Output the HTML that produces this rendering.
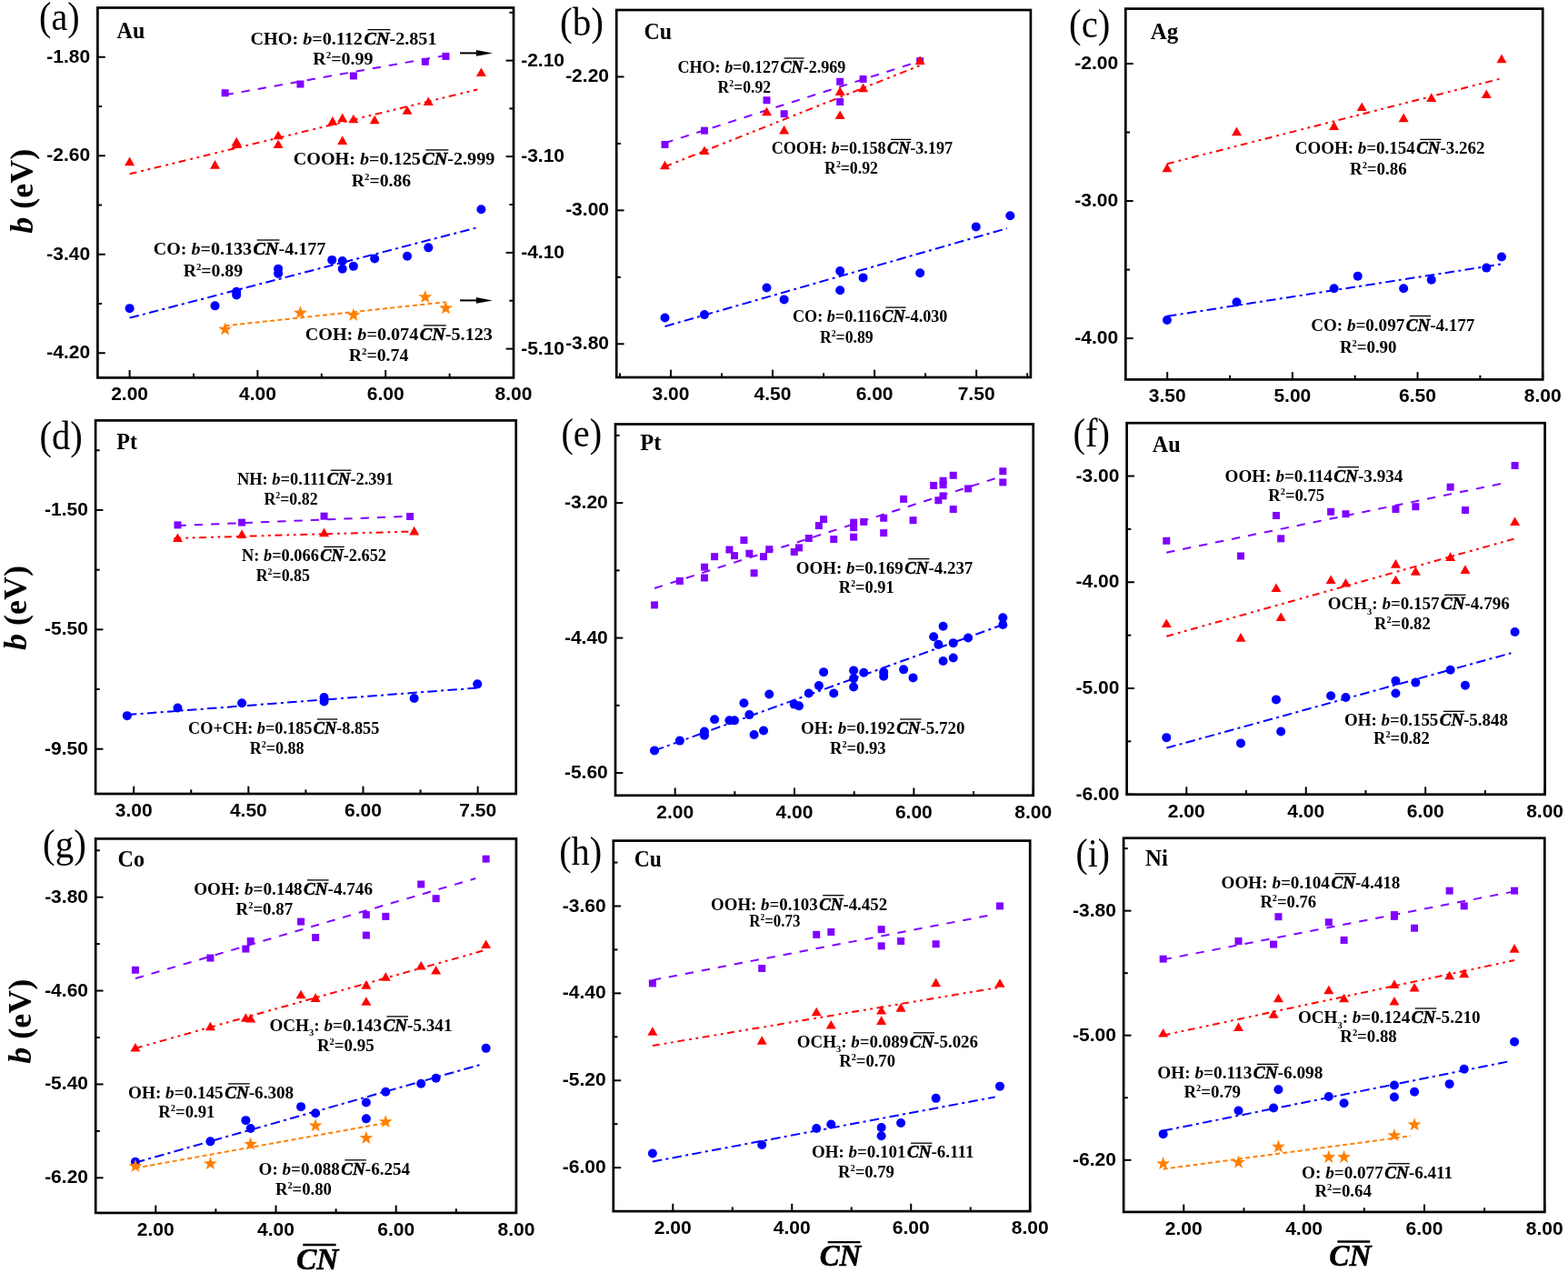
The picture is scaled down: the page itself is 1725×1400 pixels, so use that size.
<!DOCTYPE html>
<html><head><meta charset="utf-8"><title>b vs CN</title><style>html,body{margin:0;padding:0;background:#fff;}svg{display:block;}</style></head><body>
<svg width="1725" height="1400" viewBox="0 0 1725 1400">
<g stroke="#000" stroke-width="2"><line x1="142.6" y1="415.4" x2="142.6" y2="407.05"/><line x1="283.4" y1="415.4" x2="283.4" y2="407.05"/><line x1="424.2" y1="415.4" x2="424.2" y2="407.05"/><line x1="565" y1="415.4" x2="565" y2="407.05"/><line x1="213" y1="415.4" x2="213" y2="410.75"/><line x1="353.8" y1="415.4" x2="353.8" y2="410.75"/><line x1="494.6" y1="415.4" x2="494.6" y2="410.75"/><line x1="107.4" y1="62.75" x2="115.75" y2="62.75"/><line x1="107.4" y1="171.26" x2="115.75" y2="171.26"/><line x1="107.4" y1="279.77" x2="115.75" y2="279.77"/><line x1="107.4" y1="388.27" x2="115.75" y2="388.27"/><line x1="107.4" y1="117.01" x2="112.05" y2="117.01"/><line x1="107.4" y1="225.51" x2="112.05" y2="225.51"/><line x1="107.4" y1="334.02" x2="112.05" y2="334.02"/><line x1="565" y1="66.6" x2="556.65" y2="66.6"/><line x1="565" y1="172.1" x2="556.65" y2="172.1"/><line x1="565" y1="277.9" x2="556.65" y2="277.9"/><line x1="565" y1="383.6" x2="556.65" y2="383.6"/><line x1="565" y1="13.8" x2="560.35" y2="13.8"/><line x1="565" y1="119.4" x2="560.35" y2="119.4"/><line x1="565" y1="225" x2="560.35" y2="225"/><line x1="565" y1="330.7" x2="560.35" y2="330.7"/></g>
<rect x="107.4" y="8.5" width="457.6" height="406.9" fill="none" stroke="#000" stroke-width="2.7"/>
<g font-family="'Liberation Sans', Arial, sans-serif" font-weight="bold" font-size="21" fill="#000"><text x="142.6" y="440.2" text-anchor="middle">2.00</text><text x="283.4" y="440.2" text-anchor="middle">4.00</text><text x="424.2" y="440.2" text-anchor="middle">6.00</text><text x="565" y="440.2" text-anchor="middle">8.00</text><text x="99.2" y="68.75" text-anchor="end">-1.80</text><text x="99.2" y="177.26" text-anchor="end">-2.60</text><text x="99.2" y="285.77" text-anchor="end">-3.40</text><text x="99.2" y="394.27" text-anchor="end">-4.20</text><text x="573.2" y="72.6" text-anchor="start">-2.10</text><text x="573.2" y="178.1" text-anchor="start">-3.10</text><text x="573.2" y="283.9" text-anchor="start">-4.10</text><text x="573.2" y="389.6" text-anchor="start">-5.10</text></g>
<line x1="247.65" y1="104.35" x2="490.43" y2="60.87" stroke="#8000ff" stroke-width="2" stroke-dasharray="9.3 9"/>
<line x1="142.61" y1="191.3" x2="525.22" y2="98.43" stroke="#ff0000" stroke-width="2" stroke-dasharray="7.9 5.1 2.8 4.6 2.8 4.6"/>
<line x1="142.61" y1="349.57" x2="526.96" y2="249.74" stroke="#0000ff" stroke-width="2" stroke-dasharray="10.5 4.3 3 4.3"/>
<line x1="247.65" y1="358.26" x2="490.43" y2="332.17" stroke="#ff8000" stroke-width="2" stroke-dasharray="5 3.3"/>
<rect x="243.65" y="98.26" width="8" height="8" fill="#8000ff"/>
<rect x="326.43" y="88.52" width="8" height="8" fill="#8000ff"/>
<rect x="384.87" y="79.48" width="8" height="8" fill="#8000ff"/>
<rect x="463.83" y="63.83" width="8" height="8" fill="#8000ff"/>
<rect x="486.43" y="57.91" width="8" height="8" fill="#8000ff"/>
<polygon points="142.61,172.59 148.11,182.19 137.11,182.19" fill="#ff0000"/>
<polygon points="236.52,176.07 242.02,185.67 231.02,185.67" fill="#ff0000"/>
<polygon points="260.17,150.68 265.67,160.28 254.67,160.28" fill="#ff0000"/>
<polygon points="260.17,153.46 265.67,163.06 254.67,163.06" fill="#ff0000"/>
<polygon points="306.09,143.72 311.59,153.32 300.59,153.32" fill="#ff0000"/>
<polygon points="306.09,153.46 311.59,163.06 300.59,163.06" fill="#ff0000"/>
<polygon points="365.91,128.07 371.41,137.67 360.41,137.67" fill="#ff0000"/>
<polygon points="376.7,124.59 382.2,134.19 371.2,134.19" fill="#ff0000"/>
<polygon points="376.7,149.29 382.2,158.89 371.2,158.89" fill="#ff0000"/>
<polygon points="388.87,125.63 394.37,135.23 383.37,135.23" fill="#ff0000"/>
<polygon points="412.17,126.68 417.67,136.28 406.67,136.28" fill="#ff0000"/>
<polygon points="448,116.24 453.5,125.84 442.5,125.84" fill="#ff0000"/>
<polygon points="471.3,106.5 476.8,116.1 465.8,116.1" fill="#ff0000"/>
<polygon points="529.39,74.5 534.89,84.1 523.89,84.1" fill="#ff0000"/>
<circle cx="142.61" cy="339.13" r="5" fill="#0000ff"/>
<circle cx="236.52" cy="336.35" r="5" fill="#0000ff"/>
<circle cx="260.17" cy="320.7" r="5" fill="#0000ff"/>
<circle cx="260.17" cy="324.52" r="5" fill="#0000ff"/>
<circle cx="306.09" cy="295.65" r="5" fill="#0000ff"/>
<circle cx="306.09" cy="300.87" r="5" fill="#0000ff"/>
<circle cx="365.22" cy="285.91" r="5" fill="#0000ff"/>
<circle cx="376.7" cy="286.96" r="5" fill="#0000ff"/>
<circle cx="376.7" cy="295.65" r="5" fill="#0000ff"/>
<circle cx="388.87" cy="292.87" r="5" fill="#0000ff"/>
<circle cx="412.17" cy="284.52" r="5" fill="#0000ff"/>
<circle cx="448" cy="281.74" r="5" fill="#0000ff"/>
<circle cx="471.3" cy="272.35" r="5" fill="#0000ff"/>
<circle cx="529.39" cy="230.26" r="5" fill="#0000ff"/>
<polygon points="247.65,354.44 249.53,359.65 255.07,359.83 250.7,363.23 252.24,368.55 247.65,365.44 243.07,368.55 244.61,363.23 240.23,359.83 245.77,359.65" fill="#ff8000"/>
<polygon points="330.43,336.35 332.32,341.56 337.85,341.74 333.48,345.14 335.02,350.46 330.43,347.35 325.85,350.46 327.39,345.14 323.02,341.74 328.55,341.56" fill="#ff8000"/>
<polygon points="388.87,338.79 390.75,344 396.29,344.18 391.91,347.58 393.45,352.9 388.87,349.79 384.28,352.9 385.83,347.58 381.45,344.18 386.99,344" fill="#ff8000"/>
<polygon points="467.83,318.96 469.71,324.17 475.24,324.35 470.87,327.75 472.41,333.07 467.83,329.96 463.24,333.07 464.78,327.75 460.41,324.35 465.95,324.17" fill="#ff8000"/>
<polygon points="490.43,331.13 492.32,336.35 497.85,336.52 493.48,339.92 495.02,345.25 490.43,342.13 485.85,345.25 487.39,339.92 483.02,336.52 488.55,336.35" fill="#ff8000"/>
<line x1="506" y1="58.4" x2="529.9" y2="58.4" stroke="#000" stroke-width="2"/>
<polygon points="541.9,58.4 523.9,55 523.9,61.8" fill="#000"/>
<line x1="506" y1="330.4" x2="529.9" y2="330.4" stroke="#000" stroke-width="2"/>
<polygon points="541.9,330.4 523.9,327 523.9,333.8" fill="#000"/>
<text x="275.5" y="48.6" font-family="'Liberation Serif', 'Times New Roman', serif" font-weight="bold" font-size="19.5" textLength="205" lengthAdjust="spacingAndGlyphs">CHO: <tspan font-style="italic">b</tspan>=0.112<tspan id="ov_a_0" dx="1.5" font-style="italic" stroke="#000" stroke-width="0.55">CN</tspan>-2.851</text><line x1="404.47" y1="32.6" x2="429.46" y2="32.6" stroke="#000" stroke-width="1.3"/>
<text x="344.3" y="71.3" font-family="'Liberation Serif', 'Times New Roman', serif" font-weight="bold" font-size="19.5" textLength="66.1" lengthAdjust="spacingAndGlyphs">R<tspan font-size="10.73" dy="-7">2</tspan><tspan dy="7">=0.99</tspan></text>
<text x="322.8" y="180.9" font-family="'Liberation Serif', 'Times New Roman', serif" font-weight="bold" font-size="19.5" textLength="221.5" lengthAdjust="spacingAndGlyphs">COOH: <tspan font-style="italic">b</tspan>=0.125<tspan id="ov_a_1" dx="1.5" font-style="italic" stroke="#000" stroke-width="0.55">CN</tspan>-2.999</text><line x1="468.37" y1="164.9" x2="493.33" y2="164.9" stroke="#000" stroke-width="1.3"/>
<text x="386.8" y="204.5" font-family="'Liberation Serif', 'Times New Roman', serif" font-weight="bold" font-size="19.5" textLength="65.4" lengthAdjust="spacingAndGlyphs">R<tspan font-size="10.73" dy="-7">2</tspan><tspan dy="7">=0.86</tspan></text>
<text x="168.7" y="280" font-family="'Liberation Serif', 'Times New Roman', serif" font-weight="bold" font-size="19.5" textLength="189.6" lengthAdjust="spacingAndGlyphs">CO: <tspan font-style="italic">b</tspan>=0.133<tspan id="ov_a_2" dx="1.5" font-style="italic" stroke="#000" stroke-width="0.55">CN</tspan>-4.177</text><line x1="282.62" y1="264" x2="307.49" y2="264" stroke="#000" stroke-width="1.3"/>
<text x="201.7" y="303.7" font-family="'Liberation Serif', 'Times New Roman', serif" font-weight="bold" font-size="19.5" textLength="65.4" lengthAdjust="spacingAndGlyphs">R<tspan font-size="10.73" dy="-7">2</tspan><tspan dy="7">=0.89</tspan></text>
<text x="335.7" y="373.9" font-family="'Liberation Serif', 'Times New Roman', serif" font-weight="bold" font-size="19.5" textLength="206.2" lengthAdjust="spacingAndGlyphs">COH: <tspan font-style="italic">b</tspan>=0.074<tspan id="ov_a_3" dx="1.5" font-style="italic" stroke="#000" stroke-width="0.55">CN</tspan>-5.123</text><line x1="465.84" y1="357.9" x2="490.84" y2="357.9" stroke="#000" stroke-width="1.3"/>
<text x="383.7" y="396.5" font-family="'Liberation Serif', 'Times New Roman', serif" font-weight="bold" font-size="19.5" textLength="65.7" lengthAdjust="spacingAndGlyphs">R<tspan font-size="10.73" dy="-7">2</tspan><tspan dy="7">=0.74</tspan></text>
<text x="128.6" y="41.8" font-family="'Liberation Serif', 'Times New Roman', serif" font-weight="bold" font-size="26" textLength="30.7" lengthAdjust="spacingAndGlyphs">Au</text>
<text x="43" y="33.2" font-family="'Liberation Serif', 'Times New Roman', serif" font-size="44" textLength="44.6" lengthAdjust="spacingAndGlyphs">(a)</text>
<g stroke="#000" stroke-width="2"><line x1="737.96" y1="415" x2="737.96" y2="406.65"/><line x1="850.02" y1="415" x2="850.02" y2="406.65"/><line x1="962.08" y1="415" x2="962.08" y2="406.65"/><line x1="1074.14" y1="415" x2="1074.14" y2="406.65"/><line x1="681.94" y1="415" x2="681.94" y2="410.35"/><line x1="793.99" y1="415" x2="793.99" y2="410.35"/><line x1="906.05" y1="415" x2="906.05" y2="410.35"/><line x1="1018.11" y1="415" x2="1018.11" y2="410.35"/><line x1="1130.16" y1="415" x2="1130.16" y2="410.35"/><line x1="678.2" y1="84.45" x2="686.55" y2="84.45"/><line x1="678.2" y1="231.36" x2="686.55" y2="231.36"/><line x1="678.2" y1="378.27" x2="686.55" y2="378.27"/><line x1="678.2" y1="157.91" x2="682.85" y2="157.91"/><line x1="678.2" y1="304.82" x2="682.85" y2="304.82"/></g>
<rect x="678.2" y="11" width="455.7" height="404" fill="none" stroke="#000" stroke-width="2.7"/>
<g font-family="'Liberation Sans', Arial, sans-serif" font-weight="bold" font-size="21" fill="#000"><text x="737.96" y="439.8" text-anchor="middle">3.00</text><text x="850.02" y="439.8" text-anchor="middle">4.50</text><text x="962.08" y="439.8" text-anchor="middle">6.00</text><text x="1074.14" y="439.8" text-anchor="middle">7.50</text><text x="670" y="90.45" text-anchor="end">-2.20</text><text x="670" y="237.36" text-anchor="end">-3.00</text><text x="670" y="384.27" text-anchor="end">-3.80</text></g>
<line x1="731.48" y1="157.22" x2="1012.17" y2="67.13" stroke="#8000ff" stroke-width="2" stroke-dasharray="9.3 9"/>
<line x1="731.48" y1="183.3" x2="1013.91" y2="71.3" stroke="#ff0000" stroke-width="2" stroke-dasharray="7.9 5.1 2.8 4.6 2.8 4.6"/>
<line x1="731.48" y1="358.96" x2="1107.83" y2="251.13" stroke="#0000ff" stroke-width="2" stroke-dasharray="10.5 4.3 3 4.3"/>
<rect x="727.48" y="154.96" width="8" height="8" fill="#8000ff"/>
<rect x="770.96" y="139.65" width="8" height="8" fill="#8000ff"/>
<rect x="839.48" y="106.26" width="8" height="8" fill="#8000ff"/>
<rect x="858.61" y="121.22" width="8" height="8" fill="#8000ff"/>
<rect x="920.17" y="85.74" width="8" height="8" fill="#8000ff"/>
<rect x="920.17" y="108" width="8" height="8" fill="#8000ff"/>
<rect x="945.57" y="82.96" width="8" height="8" fill="#8000ff"/>
<rect x="1008.17" y="63.13" width="8" height="8" fill="#8000ff"/>
<polygon points="731.48,176.77 736.98,186.37 725.98,186.37" fill="#ff0000"/>
<polygon points="774.96,160.42 780.46,170.02 769.46,170.02" fill="#ff0000"/>
<polygon points="843.48,117.63 848.98,127.23 837.98,127.23" fill="#ff0000"/>
<polygon points="862.61,137.81 868.11,147.41 857.11,147.41" fill="#ff0000"/>
<polygon points="924.17,95.37 929.67,104.97 918.67,104.97" fill="#ff0000"/>
<polygon points="924.17,121.46 929.67,131.06 918.67,131.06" fill="#ff0000"/>
<polygon points="949.57,91.55 955.07,101.15 944.07,101.15" fill="#ff0000"/>
<polygon points="1012.17,61.29 1017.67,70.89 1006.67,70.89" fill="#ff0000"/>
<circle cx="731.48" cy="349.57" r="5" fill="#0000ff"/>
<circle cx="774.96" cy="346.09" r="5" fill="#0000ff"/>
<circle cx="843.48" cy="316.52" r="5" fill="#0000ff"/>
<circle cx="862.61" cy="329.39" r="5" fill="#0000ff"/>
<circle cx="924.17" cy="298.09" r="5" fill="#0000ff"/>
<circle cx="924.17" cy="319.3" r="5" fill="#0000ff"/>
<circle cx="949.57" cy="305.39" r="5" fill="#0000ff"/>
<circle cx="1012.17" cy="300.17" r="5" fill="#0000ff"/>
<circle cx="1073.74" cy="249.39" r="5" fill="#0000ff"/>
<circle cx="1111.3" cy="237.22" r="5" fill="#0000ff"/>
<text x="745.4" y="80" font-family="'Liberation Serif', 'Times New Roman', serif" font-weight="bold" font-size="19.5" textLength="185" lengthAdjust="spacingAndGlyphs">CHO: <tspan font-style="italic">b</tspan>=0.127<tspan id="ov_b_0" dx="1.5" font-style="italic" stroke="#000" stroke-width="0.55">CN</tspan>-2.969</text><line x1="862.57" y1="64" x2="884.69" y2="64" stroke="#000" stroke-width="1.3"/>
<text x="789.6" y="101.6" font-family="'Liberation Serif', 'Times New Roman', serif" font-weight="bold" font-size="19.5" textLength="58.4" lengthAdjust="spacingAndGlyphs">R<tspan font-size="10.73" dy="-7">2</tspan><tspan dy="7">=0.92</tspan></text>
<text x="848.7" y="169.4" font-family="'Liberation Serif', 'Times New Roman', serif" font-weight="bold" font-size="19.5" textLength="199.3" lengthAdjust="spacingAndGlyphs">COOH: <tspan font-style="italic">b</tspan>=0.158<tspan id="ov_b_1" dx="1.5" font-style="italic" stroke="#000" stroke-width="0.55">CN</tspan>-3.197</text><line x1="980.08" y1="153.4" x2="1002.24" y2="153.4" stroke="#000" stroke-width="1.3"/>
<text x="907.1" y="190.6" font-family="'Liberation Serif', 'Times New Roman', serif" font-weight="bold" font-size="19.5" textLength="58.8" lengthAdjust="spacingAndGlyphs">R<tspan font-size="10.73" dy="-7">2</tspan><tspan dy="7">=0.92</tspan></text>
<text x="872" y="354.1" font-family="'Liberation Serif', 'Times New Roman', serif" font-weight="bold" font-size="19.5" textLength="170.4" lengthAdjust="spacingAndGlyphs">CO: <tspan font-style="italic">b</tspan>=0.116<tspan id="ov_b_2" dx="1.5" font-style="italic" stroke="#000" stroke-width="0.55">CN</tspan>-4.030</text><line x1="974.37" y1="338.1" x2="996.56" y2="338.1" stroke="#000" stroke-width="1.3"/>
<text x="901.9" y="377.4" font-family="'Liberation Serif', 'Times New Roman', serif" font-weight="bold" font-size="19.5" textLength="58.8" lengthAdjust="spacingAndGlyphs">R<tspan font-size="10.73" dy="-7">2</tspan><tspan dy="7">=0.89</tspan></text>
<text x="708.5" y="42.5" font-family="'Liberation Serif', 'Times New Roman', serif" font-weight="bold" font-size="26" textLength="30.5" lengthAdjust="spacingAndGlyphs">Cu</text>
<text x="616" y="38.5" font-family="'Liberation Serif', 'Times New Roman', serif" font-size="44" textLength="48" lengthAdjust="spacingAndGlyphs">(b)</text>
<g stroke="#000" stroke-width="2"><line x1="1284.19" y1="417.4" x2="1284.19" y2="409.05"/><line x1="1421.86" y1="417.4" x2="1421.86" y2="409.05"/><line x1="1559.53" y1="417.4" x2="1559.53" y2="409.05"/><line x1="1697.2" y1="417.4" x2="1697.2" y2="409.05"/><line x1="1353.03" y1="417.4" x2="1353.03" y2="412.75"/><line x1="1490.69" y1="417.4" x2="1490.69" y2="412.75"/><line x1="1628.37" y1="417.4" x2="1628.37" y2="412.75"/><line x1="1238.3" y1="70.01" x2="1246.65" y2="70.01"/><line x1="1238.3" y1="221.05" x2="1246.65" y2="221.05"/><line x1="1238.3" y1="372.09" x2="1246.65" y2="372.09"/><line x1="1238.3" y1="145.53" x2="1242.95" y2="145.53"/><line x1="1238.3" y1="296.57" x2="1242.95" y2="296.57"/></g>
<rect x="1238.3" y="9.6" width="458.9" height="407.8" fill="none" stroke="#000" stroke-width="2.7"/>
<g font-family="'Liberation Sans', Arial, sans-serif" font-weight="bold" font-size="21" fill="#000"><text x="1284.19" y="442.2" text-anchor="middle">3.50</text><text x="1421.86" y="442.2" text-anchor="middle">5.00</text><text x="1559.53" y="442.2" text-anchor="middle">6.50</text><text x="1697.2" y="442.2" text-anchor="middle">8.00</text><text x="1230.1" y="76.01" text-anchor="end">-2.00</text><text x="1230.1" y="227.05" text-anchor="end">-3.00</text><text x="1230.1" y="378.09" text-anchor="end">-4.00</text></g>
<line x1="1283.96" y1="180.17" x2="1651.96" y2="86.26" stroke="#ff0000" stroke-width="2" stroke-dasharray="7.9 5.1 2.8 4.6 2.8 4.6"/>
<line x1="1283.96" y1="347.83" x2="1651.96" y2="290.43" stroke="#0000ff" stroke-width="2" stroke-dasharray="10.5 4.3 3 4.3"/>
<polygon points="1283.96,179.55 1289.46,189.15 1278.46,189.15" fill="#ff0000"/>
<polygon points="1360.48,139.55 1365.98,149.15 1354.98,149.15" fill="#ff0000"/>
<polygon points="1467.61,133.29 1473.11,142.89 1462.11,142.89" fill="#ff0000"/>
<polygon points="1498.22,112.42 1503.72,122.02 1492.72,122.02" fill="#ff0000"/>
<polygon points="1544.13,124.59 1549.63,134.19 1538.63,134.19" fill="#ff0000"/>
<polygon points="1574.74,102.33 1580.24,111.93 1569.24,111.93" fill="#ff0000"/>
<polygon points="1635.26,98.5 1640.76,108.1 1629.76,108.1" fill="#ff0000"/>
<polygon points="1651.96,59.55 1657.46,69.15 1646.46,69.15" fill="#ff0000"/>
<circle cx="1283.96" cy="352" r="5" fill="#0000ff"/>
<circle cx="1360.48" cy="332.17" r="5" fill="#0000ff"/>
<circle cx="1467.61" cy="317.22" r="5" fill="#0000ff"/>
<circle cx="1493.7" cy="303.65" r="5" fill="#0000ff"/>
<circle cx="1544.13" cy="317.22" r="5" fill="#0000ff"/>
<circle cx="1574.74" cy="307.83" r="5" fill="#0000ff"/>
<circle cx="1635.26" cy="294.61" r="5" fill="#0000ff"/>
<circle cx="1651.96" cy="282.43" r="5" fill="#0000ff"/>
<text x="1424.8" y="169.4" font-family="'Liberation Serif', 'Times New Roman', serif" font-weight="bold" font-size="19.5" textLength="208.7" lengthAdjust="spacingAndGlyphs">COOH: <tspan font-style="italic">b</tspan>=0.154<tspan id="ov_c_0" dx="1.5" font-style="italic" stroke="#000" stroke-width="0.55">CN</tspan>-3.262</text><line x1="1562.19" y1="153.4" x2="1585.53" y2="153.4" stroke="#000" stroke-width="1.3"/>
<text x="1485" y="192.3" font-family="'Liberation Serif', 'Times New Roman', serif" font-weight="bold" font-size="19.5" textLength="62.6" lengthAdjust="spacingAndGlyphs">R<tspan font-size="10.73" dy="-7">2</tspan><tspan dy="7">=0.86</tspan></text>
<text x="1442.2" y="363.5" font-family="'Liberation Serif', 'Times New Roman', serif" font-weight="bold" font-size="19.5" textLength="180.2" lengthAdjust="spacingAndGlyphs">CO: <tspan font-style="italic">b</tspan>=0.097<tspan id="ov_c_1" dx="1.5" font-style="italic" stroke="#000" stroke-width="0.55">CN</tspan>-4.177</text><line x1="1550.67" y1="347.5" x2="1574.16" y2="347.5" stroke="#000" stroke-width="1.3"/>
<text x="1473.9" y="387.8" font-family="'Liberation Serif', 'Times New Roman', serif" font-weight="bold" font-size="19.5" textLength="62.6" lengthAdjust="spacingAndGlyphs">R<tspan font-size="10.73" dy="-7">2</tspan><tspan dy="7">=0.90</tspan></text>
<text x="1265.7" y="42.6" font-family="'Liberation Serif', 'Times New Roman', serif" font-weight="bold" font-size="26" textLength="30.4" lengthAdjust="spacingAndGlyphs">Ag</text>
<text x="1176.1" y="40.5" font-family="'Liberation Serif', 'Times New Roman', serif" font-size="44" textLength="45.2" lengthAdjust="spacingAndGlyphs">(c)</text>
<g stroke="#000" stroke-width="2"><line x1="147.15" y1="873" x2="147.15" y2="864.65"/><line x1="273.32" y1="873" x2="273.32" y2="864.65"/><line x1="399.48" y1="873" x2="399.48" y2="864.65"/><line x1="525.65" y1="873" x2="525.65" y2="864.65"/><line x1="210.24" y1="873" x2="210.24" y2="868.35"/><line x1="336.4" y1="873" x2="336.4" y2="868.35"/><line x1="462.56" y1="873" x2="462.56" y2="868.35"/><line x1="105.1" y1="560.94" x2="113.45" y2="560.94"/><line x1="105.1" y1="692.34" x2="113.45" y2="692.34"/><line x1="105.1" y1="823.73" x2="113.45" y2="823.73"/><line x1="105.1" y1="495.25" x2="109.75" y2="495.25"/><line x1="105.1" y1="626.64" x2="109.75" y2="626.64"/><line x1="105.1" y1="758.03" x2="109.75" y2="758.03"/></g>
<rect x="105.1" y="462.4" width="462.6" height="410.6" fill="none" stroke="#000" stroke-width="2.7"/>
<g font-family="'Liberation Sans', Arial, sans-serif" font-weight="bold" font-size="21" fill="#000"><text x="147.15" y="897.8" text-anchor="middle">3.00</text><text x="273.32" y="897.8" text-anchor="middle">4.50</text><text x="399.48" y="897.8" text-anchor="middle">6.00</text><text x="525.65" y="897.8" text-anchor="middle">7.50</text><text x="96.9" y="566.94" text-anchor="end">-1.50</text><text x="96.9" y="698.34" text-anchor="end">-5.50</text><text x="96.9" y="829.73" text-anchor="end">-9.50</text></g>
<line x1="195.48" y1="578.09" x2="451.13" y2="567.65" stroke="#8000ff" stroke-width="2" stroke-dasharray="9.3 9"/>
<line x1="191.3" y1="592" x2="459.13" y2="584.35" stroke="#ff0000" stroke-width="2" stroke-dasharray="7.9 5.1 2.8 4.6 2.8 4.6"/>
<line x1="139.83" y1="786.09" x2="525.22" y2="756.52" stroke="#0000ff" stroke-width="2" stroke-dasharray="10.5 4.3 3 4.3"/>
<rect x="191.48" y="573.39" width="8" height="8" fill="#8000ff"/>
<rect x="262.09" y="570.61" width="8" height="8" fill="#8000ff"/>
<rect x="352.52" y="563.65" width="8" height="8" fill="#8000ff"/>
<rect x="447.13" y="564" width="8" height="8" fill="#8000ff"/>
<polygon points="195.48,586.5 200.98,596.1 189.98,596.1" fill="#ff0000"/>
<polygon points="266.09,582.33 271.59,591.93 260.59,591.93" fill="#ff0000"/>
<polygon points="356.52,580.59 362.02,590.19 351.02,590.19" fill="#ff0000"/>
<polygon points="455.65,578.85 461.15,588.45 450.15,588.45" fill="#ff0000"/>
<circle cx="139.83" cy="787.13" r="5" fill="#0000ff"/>
<circle cx="195.48" cy="778.43" r="5" fill="#0000ff"/>
<circle cx="266.09" cy="773.22" r="5" fill="#0000ff"/>
<circle cx="356.52" cy="766.96" r="5" fill="#0000ff"/>
<circle cx="356.52" cy="771.48" r="5" fill="#0000ff"/>
<circle cx="455.65" cy="768" r="5" fill="#0000ff"/>
<circle cx="525.22" cy="752.35" r="5" fill="#0000ff"/>
<text x="260.9" y="533.2" font-family="'Liberation Serif', 'Times New Roman', serif" font-weight="bold" font-size="19.5" textLength="172.1" lengthAdjust="spacingAndGlyphs">NH: <tspan font-style="italic">b</tspan>=0.111<tspan id="ov_d_0" dx="1.5" font-style="italic" stroke="#000" stroke-width="0.55">CN</tspan>-2.391</text><line x1="363.82" y1="517.2" x2="386.41" y2="517.2" stroke="#000" stroke-width="1.3"/>
<text x="290.4" y="554.8" font-family="'Liberation Serif', 'Times New Roman', serif" font-weight="bold" font-size="19.5" textLength="59.2" lengthAdjust="spacingAndGlyphs">R<tspan font-size="10.73" dy="-7">2</tspan><tspan dy="7">=0.82</tspan></text>
<text x="266.1" y="617.4" font-family="'Liberation Serif', 'Times New Roman', serif" font-weight="bold" font-size="19.5" textLength="158.9" lengthAdjust="spacingAndGlyphs">N: <tspan font-style="italic">b</tspan>=0.066<tspan id="ov_d_1" dx="1.5" font-style="italic" stroke="#000" stroke-width="0.55">CN</tspan>-2.652</text><line x1="356.24" y1="601.4" x2="378.68" y2="601.4" stroke="#000" stroke-width="1.3"/>
<text x="281.7" y="639" font-family="'Liberation Serif', 'Times New Roman', serif" font-weight="bold" font-size="19.5" textLength="59.2" lengthAdjust="spacingAndGlyphs">R<tspan font-size="10.73" dy="-7">2</tspan><tspan dy="7">=0.85</tspan></text>
<text x="207" y="807" font-family="'Liberation Serif', 'Times New Roman', serif" font-weight="bold" font-size="19.5" textLength="210.4" lengthAdjust="spacingAndGlyphs">CO+CH: <tspan font-style="italic">b</tspan>=0.185<tspan id="ov_d_2" dx="1.5" font-style="italic" stroke="#000" stroke-width="0.55">CN</tspan>-8.855</text><line x1="348.86" y1="791" x2="371.23" y2="791" stroke="#000" stroke-width="1.3"/>
<text x="274.8" y="828.9" font-family="'Liberation Serif', 'Times New Roman', serif" font-weight="bold" font-size="19.5" textLength="59.8" lengthAdjust="spacingAndGlyphs">R<tspan font-size="10.73" dy="-7">2</tspan><tspan dy="7">=0.88</tspan></text>
<text x="128.3" y="493.5" font-family="'Liberation Serif', 'Times New Roman', serif" font-weight="bold" font-size="26" textLength="22.6" lengthAdjust="spacingAndGlyphs">Pt</text>
<text x="43.5" y="494" font-family="'Liberation Serif', 'Times New Roman', serif" font-size="44" textLength="47.4" lengthAdjust="spacingAndGlyphs">(d)</text>
<g stroke="#000" stroke-width="2"><line x1="742.67" y1="874.8" x2="742.67" y2="866.45"/><line x1="874.01" y1="874.8" x2="874.01" y2="866.45"/><line x1="1005.36" y1="874.8" x2="1005.36" y2="866.45"/><line x1="1136.7" y1="874.8" x2="1136.7" y2="866.45"/><line x1="808.34" y1="874.8" x2="808.34" y2="870.15"/><line x1="939.69" y1="874.8" x2="939.69" y2="870.15"/><line x1="1071.03" y1="874.8" x2="1071.03" y2="870.15"/><line x1="677" y1="553.11" x2="685.35" y2="553.11"/><line x1="677" y1="701.58" x2="685.35" y2="701.58"/><line x1="677" y1="850.05" x2="685.35" y2="850.05"/><line x1="677" y1="478.87" x2="681.65" y2="478.87"/><line x1="677" y1="627.35" x2="681.65" y2="627.35"/><line x1="677" y1="775.82" x2="681.65" y2="775.82"/></g>
<rect x="677" y="466.5" width="459.7" height="408.3" fill="none" stroke="#000" stroke-width="2.7"/>
<g font-family="'Liberation Sans', Arial, sans-serif" font-weight="bold" font-size="21" fill="#000"><text x="742.67" y="899.6" text-anchor="middle">2.00</text><text x="874.01" y="899.6" text-anchor="middle">4.00</text><text x="1005.36" y="899.6" text-anchor="middle">6.00</text><text x="1136.7" y="899.6" text-anchor="middle">8.00</text><text x="668.8" y="559.11" text-anchor="end">-3.20</text><text x="668.8" y="707.58" text-anchor="end">-4.40</text><text x="668.8" y="856.05" text-anchor="end">-5.60</text></g>
<line x1="720" y1="646.96" x2="1103.3" y2="523.48" stroke="#8000ff" stroke-width="2" stroke-dasharray="9.3 9"/>
<line x1="720" y1="825.39" x2="1103.3" y2="686.96" stroke="#0000ff" stroke-width="2" stroke-dasharray="10.5 4.3 3 4.3"/>
<rect x="716" y="661.39" width="8" height="8" fill="#8000ff"/>
<rect x="743.83" y="634.96" width="8" height="8" fill="#8000ff"/>
<rect x="770.96" y="619.65" width="8" height="8" fill="#8000ff"/>
<rect x="770.96" y="631.48" width="8" height="8" fill="#8000ff"/>
<rect x="782.09" y="608.17" width="8" height="8" fill="#8000ff"/>
<rect x="798.43" y="600.52" width="8" height="8" fill="#8000ff"/>
<rect x="804" y="607.13" width="8" height="8" fill="#8000ff"/>
<rect x="814.43" y="590.09" width="8" height="8" fill="#8000ff"/>
<rect x="820.35" y="604.7" width="8" height="8" fill="#8000ff"/>
<rect x="825.57" y="626.26" width="8" height="8" fill="#8000ff"/>
<rect x="836" y="608.17" width="8" height="8" fill="#8000ff"/>
<rect x="842.26" y="600.17" width="8" height="8" fill="#8000ff"/>
<rect x="869.74" y="602.96" width="8" height="8" fill="#8000ff"/>
<rect x="874.96" y="598.43" width="8" height="8" fill="#8000ff"/>
<rect x="885.74" y="588" width="8" height="8" fill="#8000ff"/>
<rect x="896.87" y="574.09" width="8" height="8" fill="#8000ff"/>
<rect x="902.09" y="567.13" width="8" height="8" fill="#8000ff"/>
<rect x="913.22" y="589.04" width="8" height="8" fill="#8000ff"/>
<rect x="935.13" y="570.61" width="8" height="8" fill="#8000ff"/>
<rect x="935.13" y="576.17" width="8" height="8" fill="#8000ff"/>
<rect x="935.13" y="586.61" width="8" height="8" fill="#8000ff"/>
<rect x="946.26" y="569.91" width="8" height="8" fill="#8000ff"/>
<rect x="968.17" y="565.74" width="8" height="8" fill="#8000ff"/>
<rect x="968.17" y="582.09" width="8" height="8" fill="#8000ff"/>
<rect x="990.09" y="544.87" width="8" height="8" fill="#8000ff"/>
<rect x="1000.52" y="568.17" width="8" height="8" fill="#8000ff"/>
<rect x="1023.13" y="529.91" width="8" height="8" fill="#8000ff"/>
<rect x="1028.35" y="546.26" width="8" height="8" fill="#8000ff"/>
<rect x="1033.57" y="524.7" width="8" height="8" fill="#8000ff"/>
<rect x="1033.57" y="529.22" width="8" height="8" fill="#8000ff"/>
<rect x="1033.57" y="541.39" width="8" height="8" fill="#8000ff"/>
<rect x="1044.7" y="518.78" width="8" height="8" fill="#8000ff"/>
<rect x="1044.7" y="556" width="8" height="8" fill="#8000ff"/>
<rect x="1061.04" y="533.39" width="8" height="8" fill="#8000ff"/>
<rect x="1099.3" y="514.26" width="8" height="8" fill="#8000ff"/>
<rect x="1099.3" y="526.43" width="8" height="8" fill="#8000ff"/>
<circle cx="720" cy="825.39" r="5" fill="#0000ff"/>
<circle cx="747.83" cy="814.61" r="5" fill="#0000ff"/>
<circle cx="774.96" cy="804.52" r="5" fill="#0000ff"/>
<circle cx="774.96" cy="808.7" r="5" fill="#0000ff"/>
<circle cx="786.09" cy="791.3" r="5" fill="#0000ff"/>
<circle cx="802.43" cy="792.35" r="5" fill="#0000ff"/>
<circle cx="808" cy="792.35" r="5" fill="#0000ff"/>
<circle cx="818.43" cy="773.22" r="5" fill="#0000ff"/>
<circle cx="824.35" cy="786.09" r="5" fill="#0000ff"/>
<circle cx="829.57" cy="808" r="5" fill="#0000ff"/>
<circle cx="840" cy="803.48" r="5" fill="#0000ff"/>
<circle cx="846.26" cy="763.48" r="5" fill="#0000ff"/>
<circle cx="873.74" cy="774.61" r="5" fill="#0000ff"/>
<circle cx="878.96" cy="776.35" r="5" fill="#0000ff"/>
<circle cx="889.74" cy="762.43" r="5" fill="#0000ff"/>
<circle cx="900.87" cy="754.09" r="5" fill="#0000ff"/>
<circle cx="906.09" cy="739.13" r="5" fill="#0000ff"/>
<circle cx="917.22" cy="762.43" r="5" fill="#0000ff"/>
<circle cx="939.13" cy="737.39" r="5" fill="#0000ff"/>
<circle cx="939.13" cy="746.09" r="5" fill="#0000ff"/>
<circle cx="939.13" cy="755.48" r="5" fill="#0000ff"/>
<circle cx="950.26" cy="739.83" r="5" fill="#0000ff"/>
<circle cx="972.17" cy="739.13" r="5" fill="#0000ff"/>
<circle cx="972.17" cy="743.65" r="5" fill="#0000ff"/>
<circle cx="994.09" cy="736.35" r="5" fill="#0000ff"/>
<circle cx="1004.52" cy="745.39" r="5" fill="#0000ff"/>
<circle cx="1027.13" cy="700.17" r="5" fill="#0000ff"/>
<circle cx="1032.35" cy="708.87" r="5" fill="#0000ff"/>
<circle cx="1037.57" cy="688.7" r="5" fill="#0000ff"/>
<circle cx="1037.57" cy="726.96" r="5" fill="#0000ff"/>
<circle cx="1048.7" cy="707.13" r="5" fill="#0000ff"/>
<circle cx="1048.7" cy="723.48" r="5" fill="#0000ff"/>
<circle cx="1065.04" cy="701.57" r="5" fill="#0000ff"/>
<circle cx="1103.3" cy="679.3" r="5" fill="#0000ff"/>
<circle cx="1103.3" cy="686.96" r="5" fill="#0000ff"/>
<text x="875.8" y="630.6" font-family="'Liberation Serif', 'Times New Roman', serif" font-weight="bold" font-size="19.5" textLength="194.5" lengthAdjust="spacingAndGlyphs">OOH: <tspan font-style="italic">b</tspan>=0.169<tspan id="ov_e_0" dx="1.5" font-style="italic" stroke="#000" stroke-width="0.55">CN</tspan>-4.237</text><line x1="999.18" y1="614.6" x2="1022.46" y2="614.6" stroke="#000" stroke-width="1.3"/>
<text x="922.8" y="652.2" font-family="'Liberation Serif', 'Times New Roman', serif" font-weight="bold" font-size="19.5" textLength="60.9" lengthAdjust="spacingAndGlyphs">R<tspan font-size="10.73" dy="-7">2</tspan><tspan dy="7">=0.91</tspan></text>
<text x="881" y="807" font-family="'Liberation Serif', 'Times New Roman', serif" font-weight="bold" font-size="19.5" textLength="180.6" lengthAdjust="spacingAndGlyphs">OH: <tspan font-style="italic">b</tspan>=0.192<tspan id="ov_e_1" dx="1.5" font-style="italic" stroke="#000" stroke-width="0.55">CN</tspan>-5.720</text><line x1="990.15" y1="791" x2="1013.54" y2="791" stroke="#000" stroke-width="1.3"/>
<text x="913" y="828.5" font-family="'Liberation Serif', 'Times New Roman', serif" font-weight="bold" font-size="19.5" textLength="61.6" lengthAdjust="spacingAndGlyphs">R<tspan font-size="10.73" dy="-7">2</tspan><tspan dy="7">=0.93</tspan></text>
<text x="704.3" y="494.8" font-family="'Liberation Serif', 'Times New Roman', serif" font-weight="bold" font-size="26" textLength="23.1" lengthAdjust="spacingAndGlyphs">Pt</text>
<text x="617.4" y="491" font-family="'Liberation Serif', 'Times New Roman', serif" font-size="44" textLength="44.8" lengthAdjust="spacingAndGlyphs">(e)</text>
<g stroke="#000" stroke-width="2"><line x1="1305.31" y1="873.7" x2="1305.31" y2="865.35"/><line x1="1436.74" y1="873.7" x2="1436.74" y2="865.35"/><line x1="1568.17" y1="873.7" x2="1568.17" y2="865.35"/><line x1="1699.6" y1="873.7" x2="1699.6" y2="865.35"/><line x1="1371.03" y1="873.7" x2="1371.03" y2="869.05"/><line x1="1502.46" y1="873.7" x2="1502.46" y2="869.05"/><line x1="1633.89" y1="873.7" x2="1633.89" y2="869.05"/><line x1="1239.6" y1="523.56" x2="1247.95" y2="523.56"/><line x1="1239.6" y1="640.27" x2="1247.95" y2="640.27"/><line x1="1239.6" y1="756.99" x2="1247.95" y2="756.99"/><line x1="1239.6" y1="873.7" x2="1247.95" y2="873.7"/><line x1="1239.6" y1="581.91" x2="1244.25" y2="581.91"/><line x1="1239.6" y1="698.63" x2="1244.25" y2="698.63"/><line x1="1239.6" y1="815.34" x2="1244.25" y2="815.34"/></g>
<rect x="1239.6" y="465.2" width="460" height="408.5" fill="none" stroke="#000" stroke-width="2.7"/>
<g font-family="'Liberation Sans', Arial, sans-serif" font-weight="bold" font-size="21" fill="#000"><text x="1305.31" y="898.5" text-anchor="middle">2.00</text><text x="1436.74" y="898.5" text-anchor="middle">4.00</text><text x="1568.17" y="898.5" text-anchor="middle">6.00</text><text x="1699.6" y="898.5" text-anchor="middle">8.00</text><text x="1231.4" y="529.56" text-anchor="end">-3.00</text><text x="1231.4" y="646.27" text-anchor="end">-4.00</text><text x="1231.4" y="762.99" text-anchor="end">-5.00</text><text x="1231.4" y="879.7" text-anchor="end">-6.00</text></g>
<line x1="1283.26" y1="607.65" x2="1658.91" y2="530.43" stroke="#8000ff" stroke-width="2" stroke-dasharray="9.3 9"/>
<line x1="1283.26" y1="699.83" x2="1666.57" y2="592.35" stroke="#ff0000" stroke-width="2" stroke-dasharray="7.9 5.1 2.8 4.6 2.8 4.6"/>
<line x1="1283.26" y1="822.61" x2="1662.39" y2="718.26" stroke="#0000ff" stroke-width="2" stroke-dasharray="10.5 4.3 3 4.3"/>
<rect x="1279.26" y="590.78" width="8" height="8" fill="#8000ff"/>
<rect x="1361" y="607.48" width="8" height="8" fill="#8000ff"/>
<rect x="1399.96" y="562.96" width="8" height="8" fill="#8000ff"/>
<rect x="1405.17" y="588.35" width="8" height="8" fill="#8000ff"/>
<rect x="1460.13" y="558.78" width="8" height="8" fill="#8000ff"/>
<rect x="1476.48" y="561.22" width="8" height="8" fill="#8000ff"/>
<rect x="1531.43" y="556" width="8" height="8" fill="#8000ff"/>
<rect x="1553.35" y="553.22" width="8" height="8" fill="#8000ff"/>
<rect x="1591.61" y="531.65" width="8" height="8" fill="#8000ff"/>
<rect x="1607.96" y="557.04" width="8" height="8" fill="#8000ff"/>
<rect x="1662.57" y="508" width="8" height="8" fill="#8000ff"/>
<polygon points="1283.26,680.42 1288.76,690.02 1277.76,690.02" fill="#ff0000"/>
<polygon points="1365,696.07 1370.5,705.67 1359.5,705.67" fill="#ff0000"/>
<polygon points="1403.96,641.46 1409.46,651.06 1398.46,651.06" fill="#ff0000"/>
<polygon points="1409.17,673.46 1414.67,683.06 1403.67,683.06" fill="#ff0000"/>
<polygon points="1464.13,632.42 1469.63,642.02 1458.63,642.02" fill="#ff0000"/>
<polygon points="1480.48,635.9 1485.98,645.5 1474.98,645.5" fill="#ff0000"/>
<polygon points="1535.43,615.03 1540.93,624.63 1529.93,624.63" fill="#ff0000"/>
<polygon points="1535.43,632.77 1540.93,642.37 1529.93,642.37" fill="#ff0000"/>
<polygon points="1557.35,623.03 1562.85,632.63 1551.85,632.63" fill="#ff0000"/>
<polygon points="1595.61,607.37 1601.11,616.97 1590.11,616.97" fill="#ff0000"/>
<polygon points="1611.96,621.29 1617.46,630.89 1606.46,630.89" fill="#ff0000"/>
<polygon points="1666.57,568.42 1672.07,578.02 1661.07,578.02" fill="#ff0000"/>
<circle cx="1283.26" cy="811.13" r="5" fill="#0000ff"/>
<circle cx="1365" cy="817.39" r="5" fill="#0000ff"/>
<circle cx="1403.96" cy="769.39" r="5" fill="#0000ff"/>
<circle cx="1409.17" cy="804.52" r="5" fill="#0000ff"/>
<circle cx="1464.13" cy="765.22" r="5" fill="#0000ff"/>
<circle cx="1480.48" cy="766.96" r="5" fill="#0000ff"/>
<circle cx="1535.43" cy="748.87" r="5" fill="#0000ff"/>
<circle cx="1535.43" cy="762.43" r="5" fill="#0000ff"/>
<circle cx="1557.35" cy="750.61" r="5" fill="#0000ff"/>
<circle cx="1595.61" cy="736.7" r="5" fill="#0000ff"/>
<circle cx="1611.96" cy="753.74" r="5" fill="#0000ff"/>
<circle cx="1666.57" cy="694.96" r="5" fill="#0000ff"/>
<text x="1347.6" y="529.7" font-family="'Liberation Serif', 'Times New Roman', serif" font-weight="bold" font-size="19.5" textLength="195.8" lengthAdjust="spacingAndGlyphs">OOH: <tspan font-style="italic">b</tspan>=0.114<tspan id="ov_f_0" dx="1.5" font-style="italic" stroke="#000" stroke-width="0.55">CN</tspan>-3.934</text><line x1="1471.37" y1="513.7" x2="1494.96" y2="513.7" stroke="#000" stroke-width="1.3"/>
<text x="1395.3" y="551.3" font-family="'Liberation Serif', 'Times New Roman', serif" font-weight="bold" font-size="19.5" textLength="61.9" lengthAdjust="spacingAndGlyphs">R<tspan font-size="10.73" dy="-7">2</tspan><tspan dy="7">=0.75</tspan></text>
<text x="1460.7" y="670.3" font-family="'Liberation Serif', 'Times New Roman', serif" font-weight="bold" font-size="19.5" textLength="200" lengthAdjust="spacingAndGlyphs">OCH<tspan font-size="10.73" dy="5.5">3</tspan><tspan dy="-5.5">:</tspan> <tspan font-style="italic">b</tspan>=0.157<tspan id="ov_f_1" dx="1.5" font-style="italic" stroke="#000" stroke-width="0.55">CN</tspan>-4.796</text><line x1="1589.07" y1="654.3" x2="1612.52" y2="654.3" stroke="#000" stroke-width="1.3"/>
<text x="1512.1" y="691.5" font-family="'Liberation Serif', 'Times New Roman', serif" font-weight="bold" font-size="19.5" textLength="61.6" lengthAdjust="spacingAndGlyphs">R<tspan font-size="10.73" dy="-7">2</tspan><tspan dy="7">=0.82</tspan></text>
<text x="1479.1" y="798.3" font-family="'Liberation Serif', 'Times New Roman', serif" font-weight="bold" font-size="19.5" textLength="179.8" lengthAdjust="spacingAndGlyphs">OH: <tspan font-style="italic">b</tspan>=0.155<tspan id="ov_f_2" dx="1.5" font-style="italic" stroke="#000" stroke-width="0.55">CN</tspan>-5.848</text><line x1="1587.79" y1="782.3" x2="1611.06" y2="782.3" stroke="#000" stroke-width="1.3"/>
<text x="1511.1" y="818.4" font-family="'Liberation Serif', 'Times New Roman', serif" font-weight="bold" font-size="19.5" textLength="61.6" lengthAdjust="spacingAndGlyphs">R<tspan font-size="10.73" dy="-7">2</tspan><tspan dy="7">=0.82</tspan></text>
<text x="1267.8" y="497" font-family="'Liberation Serif', 'Times New Roman', serif" font-weight="bold" font-size="26" textLength="30.9" lengthAdjust="spacingAndGlyphs">Au</text>
<text x="1180.4" y="490.5" font-family="'Liberation Serif', 'Times New Roman', serif" font-size="44" textLength="40.5" lengthAdjust="spacingAndGlyphs">(f)</text>
<g stroke="#000" stroke-width="2"><line x1="171.3" y1="1333.9" x2="171.3" y2="1325.55"/><line x1="303.5" y1="1333.9" x2="303.5" y2="1325.55"/><line x1="435.7" y1="1333.9" x2="435.7" y2="1325.55"/><line x1="567.9" y1="1333.9" x2="567.9" y2="1325.55"/><line x1="237.4" y1="1333.9" x2="237.4" y2="1329.25"/><line x1="369.6" y1="1333.9" x2="369.6" y2="1329.25"/><line x1="501.8" y1="1333.9" x2="501.8" y2="1329.25"/><line x1="105.2" y1="986.7" x2="113.55" y2="986.7"/><line x1="105.2" y1="1089.57" x2="113.55" y2="1089.57"/><line x1="105.2" y1="1192.45" x2="113.55" y2="1192.45"/><line x1="105.2" y1="1295.32" x2="113.55" y2="1295.32"/><line x1="105.2" y1="935.26" x2="109.85" y2="935.26"/><line x1="105.2" y1="1038.13" x2="109.85" y2="1038.13"/><line x1="105.2" y1="1141.01" x2="109.85" y2="1141.01"/><line x1="105.2" y1="1243.88" x2="109.85" y2="1243.88"/></g>
<rect x="105.2" y="922.4" width="462.7" height="411.5" fill="none" stroke="#000" stroke-width="2.7"/>
<g font-family="'Liberation Sans', Arial, sans-serif" font-weight="bold" font-size="21" fill="#000"><text x="171.3" y="1358.7" text-anchor="middle">2.00</text><text x="303.5" y="1358.7" text-anchor="middle">4.00</text><text x="435.7" y="1358.7" text-anchor="middle">6.00</text><text x="567.9" y="1358.7" text-anchor="middle">8.00</text><text x="97" y="992.7" text-anchor="end">-3.80</text><text x="97" y="1095.57" text-anchor="end">-4.60</text><text x="97" y="1198.45" text-anchor="end">-5.40</text><text x="97" y="1301.32" text-anchor="end">-6.20</text></g>
<line x1="148.93" y1="1076.07" x2="523.21" y2="966.07" stroke="#8000ff" stroke-width="2" stroke-dasharray="9.3 9"/>
<line x1="148.93" y1="1152.86" x2="534.64" y2="1044.64" stroke="#ff0000" stroke-width="2" stroke-dasharray="7.9 5.1 2.8 4.6 2.8 4.6"/>
<line x1="148.93" y1="1278.57" x2="530.36" y2="1170.36" stroke="#0000ff" stroke-width="2" stroke-dasharray="10.5 4.3 3 4.3"/>
<line x1="148.93" y1="1284.64" x2="424.29" y2="1235" stroke="#ff8000" stroke-width="2" stroke-dasharray="5 3.3"/>
<rect x="144.93" y="1062.79" width="8" height="8" fill="#8000ff"/>
<rect x="227.43" y="1049.57" width="8" height="8" fill="#8000ff"/>
<rect x="266.36" y="1039.57" width="8" height="8" fill="#8000ff"/>
<rect x="271.71" y="1031" width="8" height="8" fill="#8000ff"/>
<rect x="327.07" y="1009.57" width="8" height="8" fill="#8000ff"/>
<rect x="343.14" y="1027.07" width="8" height="8" fill="#8000ff"/>
<rect x="398.86" y="1002.07" width="8" height="8" fill="#8000ff"/>
<rect x="398.86" y="1024.57" width="8" height="8" fill="#8000ff"/>
<rect x="420.29" y="1003.86" width="8" height="8" fill="#8000ff"/>
<rect x="459.21" y="968.5" width="8" height="8" fill="#8000ff"/>
<rect x="475.64" y="984.21" width="8" height="8" fill="#8000ff"/>
<rect x="530.64" y="940.64" width="8" height="8" fill="#8000ff"/>
<polygon points="148.93,1146.99 154.43,1156.59 143.43,1156.59" fill="#ff0000"/>
<polygon points="231.43,1123.77 236.93,1133.37 225.93,1133.37" fill="#ff0000"/>
<polygon points="270.36,1114.13 275.86,1123.73 264.86,1123.73" fill="#ff0000"/>
<polygon points="275.71,1114.84 281.21,1124.44 270.21,1124.44" fill="#ff0000"/>
<polygon points="331.07,1088.77 336.57,1098.37 325.57,1098.37" fill="#ff0000"/>
<polygon points="347.14,1092.34 352.64,1101.94 341.64,1101.94" fill="#ff0000"/>
<polygon points="402.86,1078.06 408.36,1087.66 397.36,1087.66" fill="#ff0000"/>
<polygon points="402.86,1096.27 408.36,1105.87 397.36,1105.87" fill="#ff0000"/>
<polygon points="424.29,1069.13 429.79,1078.73 418.79,1078.73" fill="#ff0000"/>
<polygon points="463.21,1056.99 468.71,1066.59 457.71,1066.59" fill="#ff0000"/>
<polygon points="479.64,1061.99 485.14,1071.59 474.14,1071.59" fill="#ff0000"/>
<polygon points="534.64,1033.41 540.14,1043.01 529.14,1043.01" fill="#ff0000"/>
<circle cx="148.93" cy="1277.86" r="5" fill="#0000ff"/>
<circle cx="231.43" cy="1255.36" r="5" fill="#0000ff"/>
<circle cx="270.36" cy="1232.14" r="5" fill="#0000ff"/>
<circle cx="275.71" cy="1241.07" r="5" fill="#0000ff"/>
<circle cx="331.07" cy="1217.14" r="5" fill="#0000ff"/>
<circle cx="347.14" cy="1224.29" r="5" fill="#0000ff"/>
<circle cx="402.86" cy="1212.5" r="5" fill="#0000ff"/>
<circle cx="402.86" cy="1230.36" r="5" fill="#0000ff"/>
<circle cx="424.29" cy="1200.71" r="5" fill="#0000ff"/>
<circle cx="463.21" cy="1191.79" r="5" fill="#0000ff"/>
<circle cx="479.64" cy="1185.71" r="5" fill="#0000ff"/>
<circle cx="534.64" cy="1152.86" r="5" fill="#0000ff"/>
<polygon points="148.93,1274.84 150.81,1280.05 156.35,1280.23 151.97,1283.63 153.51,1288.95 148.93,1285.84 144.34,1288.95 145.89,1283.63 141.51,1280.23 147.05,1280.05" fill="#ff8000"/>
<polygon points="231.43,1271.99 233.31,1277.2 238.85,1277.38 234.47,1280.77 236.01,1286.1 231.43,1282.99 226.84,1286.1 228.39,1280.77 224.01,1277.38 229.55,1277.2" fill="#ff8000"/>
<polygon points="275.71,1250.56 277.6,1255.77 283.13,1255.95 278.76,1259.35 280.3,1264.67 275.71,1261.56 271.13,1264.67 272.67,1259.35 268.3,1255.95 273.83,1255.77" fill="#ff8000"/>
<polygon points="347.14,1230.2 349.02,1235.41 354.56,1235.59 350.19,1238.99 351.73,1244.31 347.14,1241.2 342.56,1244.31 344.1,1238.99 339.72,1235.59 345.26,1235.41" fill="#ff8000"/>
<polygon points="402.86,1243.77 404.74,1248.98 410.28,1249.16 405.9,1252.56 407.44,1257.88 402.86,1254.77 398.27,1257.88 399.81,1252.56 395.44,1249.16 400.98,1248.98" fill="#ff8000"/>
<polygon points="424.29,1225.91 426.17,1231.13 431.7,1231.3 427.33,1234.7 428.87,1240.02 424.29,1236.91 419.7,1240.02 421.24,1234.7 416.87,1231.3 422.4,1231.13" fill="#ff8000"/>
<text x="213.2" y="983.9" font-family="'Liberation Serif', 'Times New Roman', serif" font-weight="bold" font-size="19.5" textLength="196.8" lengthAdjust="spacingAndGlyphs">OOH: <tspan font-style="italic">b</tspan>=0.148<tspan id="ov_g_0" dx="1.5" font-style="italic" stroke="#000" stroke-width="0.55">CN</tspan>-4.746</text><line x1="338" y1="967.9" x2="361.58" y2="967.9" stroke="#000" stroke-width="1.3"/>
<text x="259.6" y="1006.4" font-family="'Liberation Serif', 'Times New Roman', serif" font-weight="bold" font-size="19.5" textLength="62.5" lengthAdjust="spacingAndGlyphs">R<tspan font-size="10.73" dy="-7">2</tspan><tspan dy="7">=0.87</tspan></text>
<text x="296.4" y="1133.9" font-family="'Liberation Serif', 'Times New Roman', serif" font-weight="bold" font-size="19.5" textLength="201.1" lengthAdjust="spacingAndGlyphs">OCH<tspan font-size="10.73" dy="5.5">3</tspan><tspan dy="-5.5">:</tspan> <tspan font-style="italic">b</tspan>=0.143<tspan id="ov_g_1" dx="1.5" font-style="italic" stroke="#000" stroke-width="0.55">CN</tspan>-5.341</text><line x1="425.46" y1="1117.9" x2="449.05" y2="1117.9" stroke="#000" stroke-width="1.3"/>
<text x="348.9" y="1156.4" font-family="'Liberation Serif', 'Times New Roman', serif" font-weight="bold" font-size="19.5" textLength="62.9" lengthAdjust="spacingAndGlyphs">R<tspan font-size="10.73" dy="-7">2</tspan><tspan dy="7">=0.95</tspan></text>
<text x="141.1" y="1207.9" font-family="'Liberation Serif', 'Times New Roman', serif" font-weight="bold" font-size="19.5" textLength="182.1" lengthAdjust="spacingAndGlyphs">OH: <tspan font-style="italic">b</tspan>=0.145<tspan id="ov_g_2" dx="1.5" font-style="italic" stroke="#000" stroke-width="0.55">CN</tspan>-6.308</text><line x1="251.13" y1="1191.9" x2="274.73" y2="1191.9" stroke="#000" stroke-width="1.3"/>
<text x="174.3" y="1229.3" font-family="'Liberation Serif', 'Times New Roman', serif" font-weight="bold" font-size="19.5" textLength="62.1" lengthAdjust="spacingAndGlyphs">R<tspan font-size="10.73" dy="-7">2</tspan><tspan dy="7">=0.91</tspan></text>
<text x="284.6" y="1291.8" font-family="'Liberation Serif', 'Times New Roman', serif" font-weight="bold" font-size="19.5" textLength="166.5" lengthAdjust="spacingAndGlyphs">O: <tspan font-style="italic">b</tspan>=0.088<tspan id="ov_g_3" dx="1.5" font-style="italic" stroke="#000" stroke-width="0.55">CN</tspan>-6.254</text><line x1="379.34" y1="1275.8" x2="402.84" y2="1275.8" stroke="#000" stroke-width="1.3"/>
<text x="302.9" y="1314.3" font-family="'Liberation Serif', 'Times New Roman', serif" font-weight="bold" font-size="19.5" textLength="62.1" lengthAdjust="spacingAndGlyphs">R<tspan font-size="10.73" dy="-7">2</tspan><tspan dy="7">=0.80</tspan></text>
<text x="129.6" y="953.3" font-family="'Liberation Serif', 'Times New Roman', serif" font-weight="bold" font-size="26" textLength="29.5" lengthAdjust="spacingAndGlyphs">Co</text>
<text x="47" y="942.7" font-family="'Liberation Serif', 'Times New Roman', serif" font-size="44" textLength="47.8" lengthAdjust="spacingAndGlyphs">(g)</text>
<g stroke="#000" stroke-width="2"><line x1="740.29" y1="1332.1" x2="740.29" y2="1323.75"/><line x1="871.26" y1="1332.1" x2="871.26" y2="1323.75"/><line x1="1002.23" y1="1332.1" x2="1002.23" y2="1323.75"/><line x1="1133.2" y1="1332.1" x2="1133.2" y2="1323.75"/><line x1="805.77" y1="1332.1" x2="805.77" y2="1327.45"/><line x1="936.74" y1="1332.1" x2="936.74" y2="1327.45"/><line x1="1067.71" y1="1332.1" x2="1067.71" y2="1327.45"/><line x1="674.8" y1="996.51" x2="683.15" y2="996.51"/><line x1="674.8" y1="1092.39" x2="683.15" y2="1092.39"/><line x1="674.8" y1="1188.28" x2="683.15" y2="1188.28"/><line x1="674.8" y1="1284.16" x2="683.15" y2="1284.16"/><line x1="674.8" y1="948.57" x2="679.45" y2="948.57"/><line x1="674.8" y1="1044.45" x2="679.45" y2="1044.45"/><line x1="674.8" y1="1140.34" x2="679.45" y2="1140.34"/><line x1="674.8" y1="1236.22" x2="679.45" y2="1236.22"/></g>
<rect x="674.8" y="924.6" width="458.4" height="407.5" fill="none" stroke="#000" stroke-width="2.7"/>
<g font-family="'Liberation Sans', Arial, sans-serif" font-weight="bold" font-size="21" fill="#000"><text x="740.29" y="1356.9" text-anchor="middle">2.00</text><text x="871.26" y="1356.9" text-anchor="middle">4.00</text><text x="1002.23" y="1356.9" text-anchor="middle">6.00</text><text x="1133.2" y="1356.9" text-anchor="middle">8.00</text><text x="666.6" y="1002.51" text-anchor="end">-3.60</text><text x="666.6" y="1098.39" text-anchor="end">-4.40</text><text x="666.6" y="1194.28" text-anchor="end">-5.20</text><text x="666.6" y="1290.16" text-anchor="end">-6.00</text></g>
<line x1="717.86" y1="1077.86" x2="1094.64" y2="1005.36" stroke="#8000ff" stroke-width="2" stroke-dasharray="9.3 9"/>
<line x1="717.86" y1="1150" x2="1100" y2="1085.71" stroke="#ff0000" stroke-width="2" stroke-dasharray="7.9 5.1 2.8 4.6 2.8 4.6"/>
<line x1="717.86" y1="1277.5" x2="1094.64" y2="1206.43" stroke="#0000ff" stroke-width="2" stroke-dasharray="10.5 4.3 3 4.3"/>
<rect x="713.86" y="1077.43" width="8" height="8" fill="#8000ff"/>
<rect x="834.21" y="1061" width="8" height="8" fill="#8000ff"/>
<rect x="894.21" y="1023.86" width="8" height="8" fill="#8000ff"/>
<rect x="910.29" y="1021" width="8" height="8" fill="#8000ff"/>
<rect x="965.64" y="1018.14" width="8" height="8" fill="#8000ff"/>
<rect x="965.64" y="1036.36" width="8" height="8" fill="#8000ff"/>
<rect x="987.07" y="1031" width="8" height="8" fill="#8000ff"/>
<rect x="1025.64" y="1034.21" width="8" height="8" fill="#8000ff"/>
<rect x="1096" y="992.43" width="8" height="8" fill="#8000ff"/>
<polygon points="717.86,1129.13 723.36,1138.73 712.36,1138.73" fill="#ff0000"/>
<polygon points="838.21,1139.13 843.71,1148.73 832.71,1148.73" fill="#ff0000"/>
<polygon points="898.21,1107.7 903.71,1117.3 892.71,1117.3" fill="#ff0000"/>
<polygon points="914.29,1121.99 919.79,1131.59 908.79,1131.59" fill="#ff0000"/>
<polygon points="969.64,1105.91 975.14,1115.51 964.14,1115.51" fill="#ff0000"/>
<polygon points="969.64,1117.34 975.14,1126.94 964.14,1126.94" fill="#ff0000"/>
<polygon points="991.07,1103.06 996.57,1112.66 985.57,1112.66" fill="#ff0000"/>
<polygon points="1029.64,1075.56 1035.14,1085.16 1024.14,1085.16" fill="#ff0000"/>
<polygon points="1100,1076.27 1105.5,1085.87 1094.5,1085.87" fill="#ff0000"/>
<circle cx="717.86" cy="1268.57" r="5" fill="#0000ff"/>
<circle cx="838.21" cy="1258.93" r="5" fill="#0000ff"/>
<circle cx="898.21" cy="1241.07" r="5" fill="#0000ff"/>
<circle cx="914.29" cy="1236.43" r="5" fill="#0000ff"/>
<circle cx="969.64" cy="1240" r="5" fill="#0000ff"/>
<circle cx="969.64" cy="1249.29" r="5" fill="#0000ff"/>
<circle cx="991.07" cy="1235" r="5" fill="#0000ff"/>
<circle cx="1029.64" cy="1207.86" r="5" fill="#0000ff"/>
<circle cx="1100" cy="1194.64" r="5" fill="#0000ff"/>
<text x="782.1" y="1000.7" font-family="'Liberation Serif', 'Times New Roman', serif" font-weight="bold" font-size="19.5" textLength="194" lengthAdjust="spacingAndGlyphs">OOH: <tspan font-style="italic">b</tspan>=0.103<tspan id="ov_h_0" dx="1.5" font-style="italic" stroke="#000" stroke-width="0.55">CN</tspan>-4.452</text><line x1="905.18" y1="984.7" x2="928.38" y2="984.7" stroke="#000" stroke-width="1.3"/>
<text x="824.3" y="1018.9" font-family="'Liberation Serif', 'Times New Roman', serif" font-weight="bold" font-size="19.5" textLength="56.1" lengthAdjust="spacingAndGlyphs">R<tspan font-size="10.73" dy="-7">2</tspan><tspan dy="7">=0.73</tspan></text>
<text x="876.8" y="1151.8" font-family="'Liberation Serif', 'Times New Roman', serif" font-weight="bold" font-size="19.5" textLength="199.3" lengthAdjust="spacingAndGlyphs">OCH<tspan font-size="10.73" dy="5.5">3</tspan><tspan dy="-5.5">:</tspan> <tspan font-style="italic">b</tspan>=0.089<tspan id="ov_h_1" dx="1.5" font-style="italic" stroke="#000" stroke-width="0.55">CN</tspan>-5.026</text><line x1="1004.74" y1="1135.8" x2="1028.1" y2="1135.8" stroke="#000" stroke-width="1.3"/>
<text x="923.2" y="1172.5" font-family="'Liberation Serif', 'Times New Roman', serif" font-weight="bold" font-size="19.5" textLength="61.8" lengthAdjust="spacingAndGlyphs">R<tspan font-size="10.73" dy="-7">2</tspan><tspan dy="7">=0.70</tspan></text>
<text x="892.9" y="1273.2" font-family="'Liberation Serif', 'Times New Roman', serif" font-weight="bold" font-size="19.5" textLength="178.5" lengthAdjust="spacingAndGlyphs">OH: <tspan font-style="italic">b</tspan>=0.101<tspan id="ov_h_2" dx="1.5" font-style="italic" stroke="#000" stroke-width="0.55">CN</tspan>-6.111</text><line x1="1002.05" y1="1257.2" x2="1025.44" y2="1257.2" stroke="#000" stroke-width="1.3"/>
<text x="922.1" y="1294.6" font-family="'Liberation Serif', 'Times New Roman', serif" font-weight="bold" font-size="19.5" textLength="61.8" lengthAdjust="spacingAndGlyphs">R<tspan font-size="10.73" dy="-7">2</tspan><tspan dy="7">=0.79</tspan></text>
<text x="697.8" y="953.3" font-family="'Liberation Serif', 'Times New Roman', serif" font-weight="bold" font-size="26" textLength="30" lengthAdjust="spacingAndGlyphs">Cu</text>
<text x="615.2" y="950.5" font-family="'Liberation Serif', 'Times New Roman', serif" font-size="44" textLength="47" lengthAdjust="spacingAndGlyphs">(h)</text>
<g stroke="#000" stroke-width="2"><line x1="1302.27" y1="1332.9" x2="1302.27" y2="1324.55"/><line x1="1434.61" y1="1332.9" x2="1434.61" y2="1324.55"/><line x1="1566.96" y1="1332.9" x2="1566.96" y2="1324.55"/><line x1="1699.3" y1="1332.9" x2="1699.3" y2="1324.55"/><line x1="1368.44" y1="1332.9" x2="1368.44" y2="1328.25"/><line x1="1500.79" y1="1332.9" x2="1500.79" y2="1328.25"/><line x1="1633.13" y1="1332.9" x2="1633.13" y2="1328.25"/><line x1="1236.1" y1="1001.66" x2="1244.45" y2="1001.66"/><line x1="1236.1" y1="1138.72" x2="1244.45" y2="1138.72"/><line x1="1236.1" y1="1275.79" x2="1244.45" y2="1275.79"/><line x1="1236.1" y1="933.12" x2="1240.75" y2="933.12"/><line x1="1236.1" y1="1070.19" x2="1240.75" y2="1070.19"/><line x1="1236.1" y1="1207.26" x2="1240.75" y2="1207.26"/></g>
<rect x="1236.1" y="921.7" width="463.2" height="411.2" fill="none" stroke="#000" stroke-width="2.7"/>
<g font-family="'Liberation Sans', Arial, sans-serif" font-weight="bold" font-size="21" fill="#000"><text x="1302.27" y="1357.7" text-anchor="middle">2.00</text><text x="1434.61" y="1357.7" text-anchor="middle">4.00</text><text x="1566.96" y="1357.7" text-anchor="middle">6.00</text><text x="1699.3" y="1357.7" text-anchor="middle">8.00</text><text x="1227.9" y="1007.66" text-anchor="end">-3.80</text><text x="1227.9" y="1144.72" text-anchor="end">-5.00</text><text x="1227.9" y="1281.79" text-anchor="end">-6.20</text></g>
<line x1="1279.64" y1="1055.36" x2="1666.07" y2="980.36" stroke="#8000ff" stroke-width="2" stroke-dasharray="9.3 9"/>
<line x1="1279.64" y1="1138.57" x2="1666.07" y2="1056.07" stroke="#ff0000" stroke-width="2" stroke-dasharray="7.9 5.1 2.8 4.6 2.8 4.6"/>
<line x1="1279.64" y1="1243.57" x2="1660.71" y2="1167.14" stroke="#0000ff" stroke-width="2" stroke-dasharray="10.5 4.3 3 4.3"/>
<line x1="1279.64" y1="1285.71" x2="1551.79" y2="1249.29" stroke="#ff8000" stroke-width="2" stroke-dasharray="5 3.3"/>
<rect x="1275.64" y="1050.64" width="8" height="8" fill="#8000ff"/>
<rect x="1358.5" y="1031" width="8" height="8" fill="#8000ff"/>
<rect x="1397.07" y="1034.57" width="8" height="8" fill="#8000ff"/>
<rect x="1402.43" y="1004.21" width="8" height="8" fill="#8000ff"/>
<rect x="1457.79" y="1010.29" width="8" height="8" fill="#8000ff"/>
<rect x="1474.57" y="1029.93" width="8" height="8" fill="#8000ff"/>
<rect x="1529.93" y="1002.07" width="8" height="8" fill="#8000ff"/>
<rect x="1529.93" y="1003.86" width="8" height="8" fill="#8000ff"/>
<rect x="1552.07" y="1016.71" width="8" height="8" fill="#8000ff"/>
<rect x="1590.64" y="975.64" width="8" height="8" fill="#8000ff"/>
<rect x="1606.71" y="992.43" width="8" height="8" fill="#8000ff"/>
<rect x="1662.07" y="975.64" width="8" height="8" fill="#8000ff"/>
<polygon points="1279.64,1130.91 1285.14,1140.51 1274.14,1140.51" fill="#ff0000"/>
<polygon points="1362.5,1124.49 1368,1134.09 1357,1134.09" fill="#ff0000"/>
<polygon points="1401.07,1110.2 1406.57,1119.8 1395.57,1119.8" fill="#ff0000"/>
<polygon points="1406.43,1092.7 1411.93,1102.3 1400.93,1102.3" fill="#ff0000"/>
<polygon points="1461.79,1083.77 1467.29,1093.37 1456.29,1093.37" fill="#ff0000"/>
<polygon points="1478.57,1092.7 1484.07,1102.3 1473.07,1102.3" fill="#ff0000"/>
<polygon points="1533.93,1077.34 1539.43,1086.94 1528.43,1086.94" fill="#ff0000"/>
<polygon points="1533.93,1095.91 1539.43,1105.51 1528.43,1105.51" fill="#ff0000"/>
<polygon points="1556.07,1080.91 1561.57,1090.51 1550.57,1090.51" fill="#ff0000"/>
<polygon points="1594.64,1067.7 1600.14,1077.3 1589.14,1077.3" fill="#ff0000"/>
<polygon points="1610.71,1065.56 1616.21,1075.16 1605.21,1075.16" fill="#ff0000"/>
<polygon points="1666.07,1038.06 1671.57,1047.66 1660.57,1047.66" fill="#ff0000"/>
<circle cx="1279.64" cy="1247.14" r="5" fill="#0000ff"/>
<circle cx="1362.5" cy="1221.43" r="5" fill="#0000ff"/>
<circle cx="1401.07" cy="1218.57" r="5" fill="#0000ff"/>
<circle cx="1406.43" cy="1198.21" r="5" fill="#0000ff"/>
<circle cx="1461.79" cy="1206.07" r="5" fill="#0000ff"/>
<circle cx="1478.57" cy="1213.21" r="5" fill="#0000ff"/>
<circle cx="1533.93" cy="1193.57" r="5" fill="#0000ff"/>
<circle cx="1533.93" cy="1206.43" r="5" fill="#0000ff"/>
<circle cx="1556.07" cy="1200.71" r="5" fill="#0000ff"/>
<circle cx="1594.64" cy="1192.14" r="5" fill="#0000ff"/>
<circle cx="1610.71" cy="1175.71" r="5" fill="#0000ff"/>
<circle cx="1666.07" cy="1145.71" r="5" fill="#0000ff"/>
<polygon points="1279.64,1271.99 1281.52,1277.2 1287.06,1277.38 1282.69,1280.77 1284.23,1286.1 1279.64,1282.99 1275.06,1286.1 1276.6,1280.77 1272.22,1277.38 1277.76,1277.2" fill="#ff8000"/>
<polygon points="1362.5,1270.56 1364.38,1275.77 1369.92,1275.95 1365.54,1279.35 1367.08,1284.67 1362.5,1281.56 1357.92,1284.67 1359.46,1279.35 1355.08,1275.95 1360.62,1275.77" fill="#ff8000"/>
<polygon points="1406.43,1253.41 1408.31,1258.63 1413.85,1258.8 1409.47,1262.2 1411.01,1267.52 1406.43,1264.41 1401.84,1267.52 1403.39,1262.2 1399.01,1258.8 1404.55,1258.63" fill="#ff8000"/>
<polygon points="1461.79,1264.84 1463.67,1270.05 1469.2,1270.23 1464.83,1273.63 1466.37,1278.95 1461.79,1275.84 1457.2,1278.95 1458.74,1273.63 1454.37,1270.23 1459.9,1270.05" fill="#ff8000"/>
<polygon points="1478.57,1264.84 1480.45,1270.05 1485.99,1270.23 1481.61,1273.63 1483.16,1278.95 1478.57,1275.84 1473.99,1278.95 1475.53,1273.63 1471.15,1270.23 1476.69,1270.05" fill="#ff8000"/>
<polygon points="1533.93,1240.91 1535.81,1246.13 1541.35,1246.3 1536.97,1249.7 1538.51,1255.02 1533.93,1251.91 1529.34,1255.02 1530.89,1249.7 1526.51,1246.3 1532.05,1246.13" fill="#ff8000"/>
<polygon points="1556.07,1229.13 1557.95,1234.34 1563.49,1234.52 1559.11,1237.92 1560.66,1243.24 1556.07,1240.13 1551.49,1243.24 1553.03,1237.92 1548.65,1234.52 1554.19,1234.34" fill="#ff8000"/>
<text x="1343.6" y="976.8" font-family="'Liberation Serif', 'Times New Roman', serif" font-weight="bold" font-size="19.5" textLength="196.8" lengthAdjust="spacingAndGlyphs">OOH: <tspan font-style="italic">b</tspan>=0.104<tspan id="ov_i_0" dx="1.5" font-style="italic" stroke="#000" stroke-width="0.55">CN</tspan>-4.418</text><line x1="1468.4" y1="960.8" x2="1491.98" y2="960.8" stroke="#000" stroke-width="1.3"/>
<text x="1386.4" y="998.2" font-family="'Liberation Serif', 'Times New Roman', serif" font-weight="bold" font-size="19.5" textLength="61.8" lengthAdjust="spacingAndGlyphs">R<tspan font-size="10.73" dy="-7">2</tspan><tspan dy="7">=0.76</tspan></text>
<text x="1427.9" y="1125" font-family="'Liberation Serif', 'Times New Roman', serif" font-weight="bold" font-size="19.5" textLength="200.7" lengthAdjust="spacingAndGlyphs">OCH<tspan font-size="10.73" dy="5.5">3</tspan><tspan dy="-5.5">:</tspan> <tspan font-style="italic">b</tspan>=0.124<tspan id="ov_i_1" dx="1.5" font-style="italic" stroke="#000" stroke-width="0.55">CN</tspan>-5.210</text><line x1="1556.71" y1="1109" x2="1580.25" y2="1109" stroke="#000" stroke-width="1.3"/>
<text x="1474.3" y="1145.7" font-family="'Liberation Serif', 'Times New Roman', serif" font-weight="bold" font-size="19.5" textLength="62.5" lengthAdjust="spacingAndGlyphs">R<tspan font-size="10.73" dy="-7">2</tspan><tspan dy="7">=0.88</tspan></text>
<text x="1273.2" y="1186.4" font-family="'Liberation Serif', 'Times New Roman', serif" font-weight="bold" font-size="19.5" textLength="182.2" lengthAdjust="spacingAndGlyphs">OH: <tspan font-style="italic">b</tspan>=0.113<tspan id="ov_i_2" dx="1.5" font-style="italic" stroke="#000" stroke-width="0.55">CN</tspan>-6.098</text><line x1="1382.84" y1="1170.4" x2="1406.61" y2="1170.4" stroke="#000" stroke-width="1.3"/>
<text x="1302.5" y="1207.1" font-family="'Liberation Serif', 'Times New Roman', serif" font-weight="bold" font-size="19.5" textLength="62.5" lengthAdjust="spacingAndGlyphs">R<tspan font-size="10.73" dy="-7">2</tspan><tspan dy="7">=0.79</tspan></text>
<text x="1432.1" y="1295.7" font-family="'Liberation Serif', 'Times New Roman', serif" font-weight="bold" font-size="19.5" textLength="166.1" lengthAdjust="spacingAndGlyphs">O: <tspan font-style="italic">b</tspan>=0.077<tspan id="ov_i_3" dx="1.5" font-style="italic" stroke="#000" stroke-width="0.55">CN</tspan>-6.411</text><line x1="1527.2" y1="1279.7" x2="1550.8" y2="1279.7" stroke="#000" stroke-width="1.3"/>
<text x="1446.4" y="1316.1" font-family="'Liberation Serif', 'Times New Roman', serif" font-weight="bold" font-size="19.5" textLength="62.5" lengthAdjust="spacingAndGlyphs">R<tspan font-size="10.73" dy="-7">2</tspan><tspan dy="7">=0.64</tspan></text>
<text x="1260" y="952" font-family="'Liberation Serif', 'Times New Roman', serif" font-weight="bold" font-size="26" textLength="24.8" lengthAdjust="spacingAndGlyphs">Ni</text>
<text x="1183.5" y="953.2" font-family="'Liberation Serif', 'Times New Roman', serif" font-size="44" textLength="37.4" lengthAdjust="spacingAndGlyphs">(i)</text>
<text transform="translate(36,210.2) rotate(-90)" text-anchor="middle" font-family="'Liberation Serif', 'Times New Roman', serif" font-weight="bold" font-size="36"><tspan font-style="italic">b</tspan> (eV)</text>
<text transform="translate(28.6,668.5) rotate(-90)" text-anchor="middle" font-family="'Liberation Serif', 'Times New Roman', serif" font-weight="bold" font-size="36"><tspan font-style="italic">b</tspan> (eV)</text>
<text transform="translate(34.3,1123.3) rotate(-90)" text-anchor="middle" font-family="'Liberation Serif', 'Times New Roman', serif" font-weight="bold" font-size="36"><tspan font-style="italic">b</tspan> (eV)</text>
<text x="326.1" y="1395.7" font-family="'Liberation Serif', 'Times New Roman', serif" font-weight="bold" font-style="italic" font-size="33" textLength="46.4" lengthAdjust="spacingAndGlyphs" stroke="#000" stroke-width="0.6">CN</text>
<line x1="333.3" y1="1369" x2="369.6" y2="1369" stroke="#000" stroke-width="2.3"/>
<text x="901.7" y="1392.2" font-family="'Liberation Serif', 'Times New Roman', serif" font-weight="bold" font-style="italic" font-size="33" textLength="45.5" lengthAdjust="spacingAndGlyphs" stroke="#000" stroke-width="0.6">CN</text>
<line x1="910.7" y1="1366.2" x2="946.4" y2="1366.2" stroke="#000" stroke-width="2.3"/>
<text x="1462.3" y="1392.2" font-family="'Liberation Serif', 'Times New Roman', serif" font-weight="bold" font-style="italic" font-size="33" textLength="46.1" lengthAdjust="spacingAndGlyphs" stroke="#000" stroke-width="0.6">CN</text>
<line x1="1471.3" y1="1365.5" x2="1507.2" y2="1365.5" stroke="#000" stroke-width="2.3"/>
</svg>
</body></html>
